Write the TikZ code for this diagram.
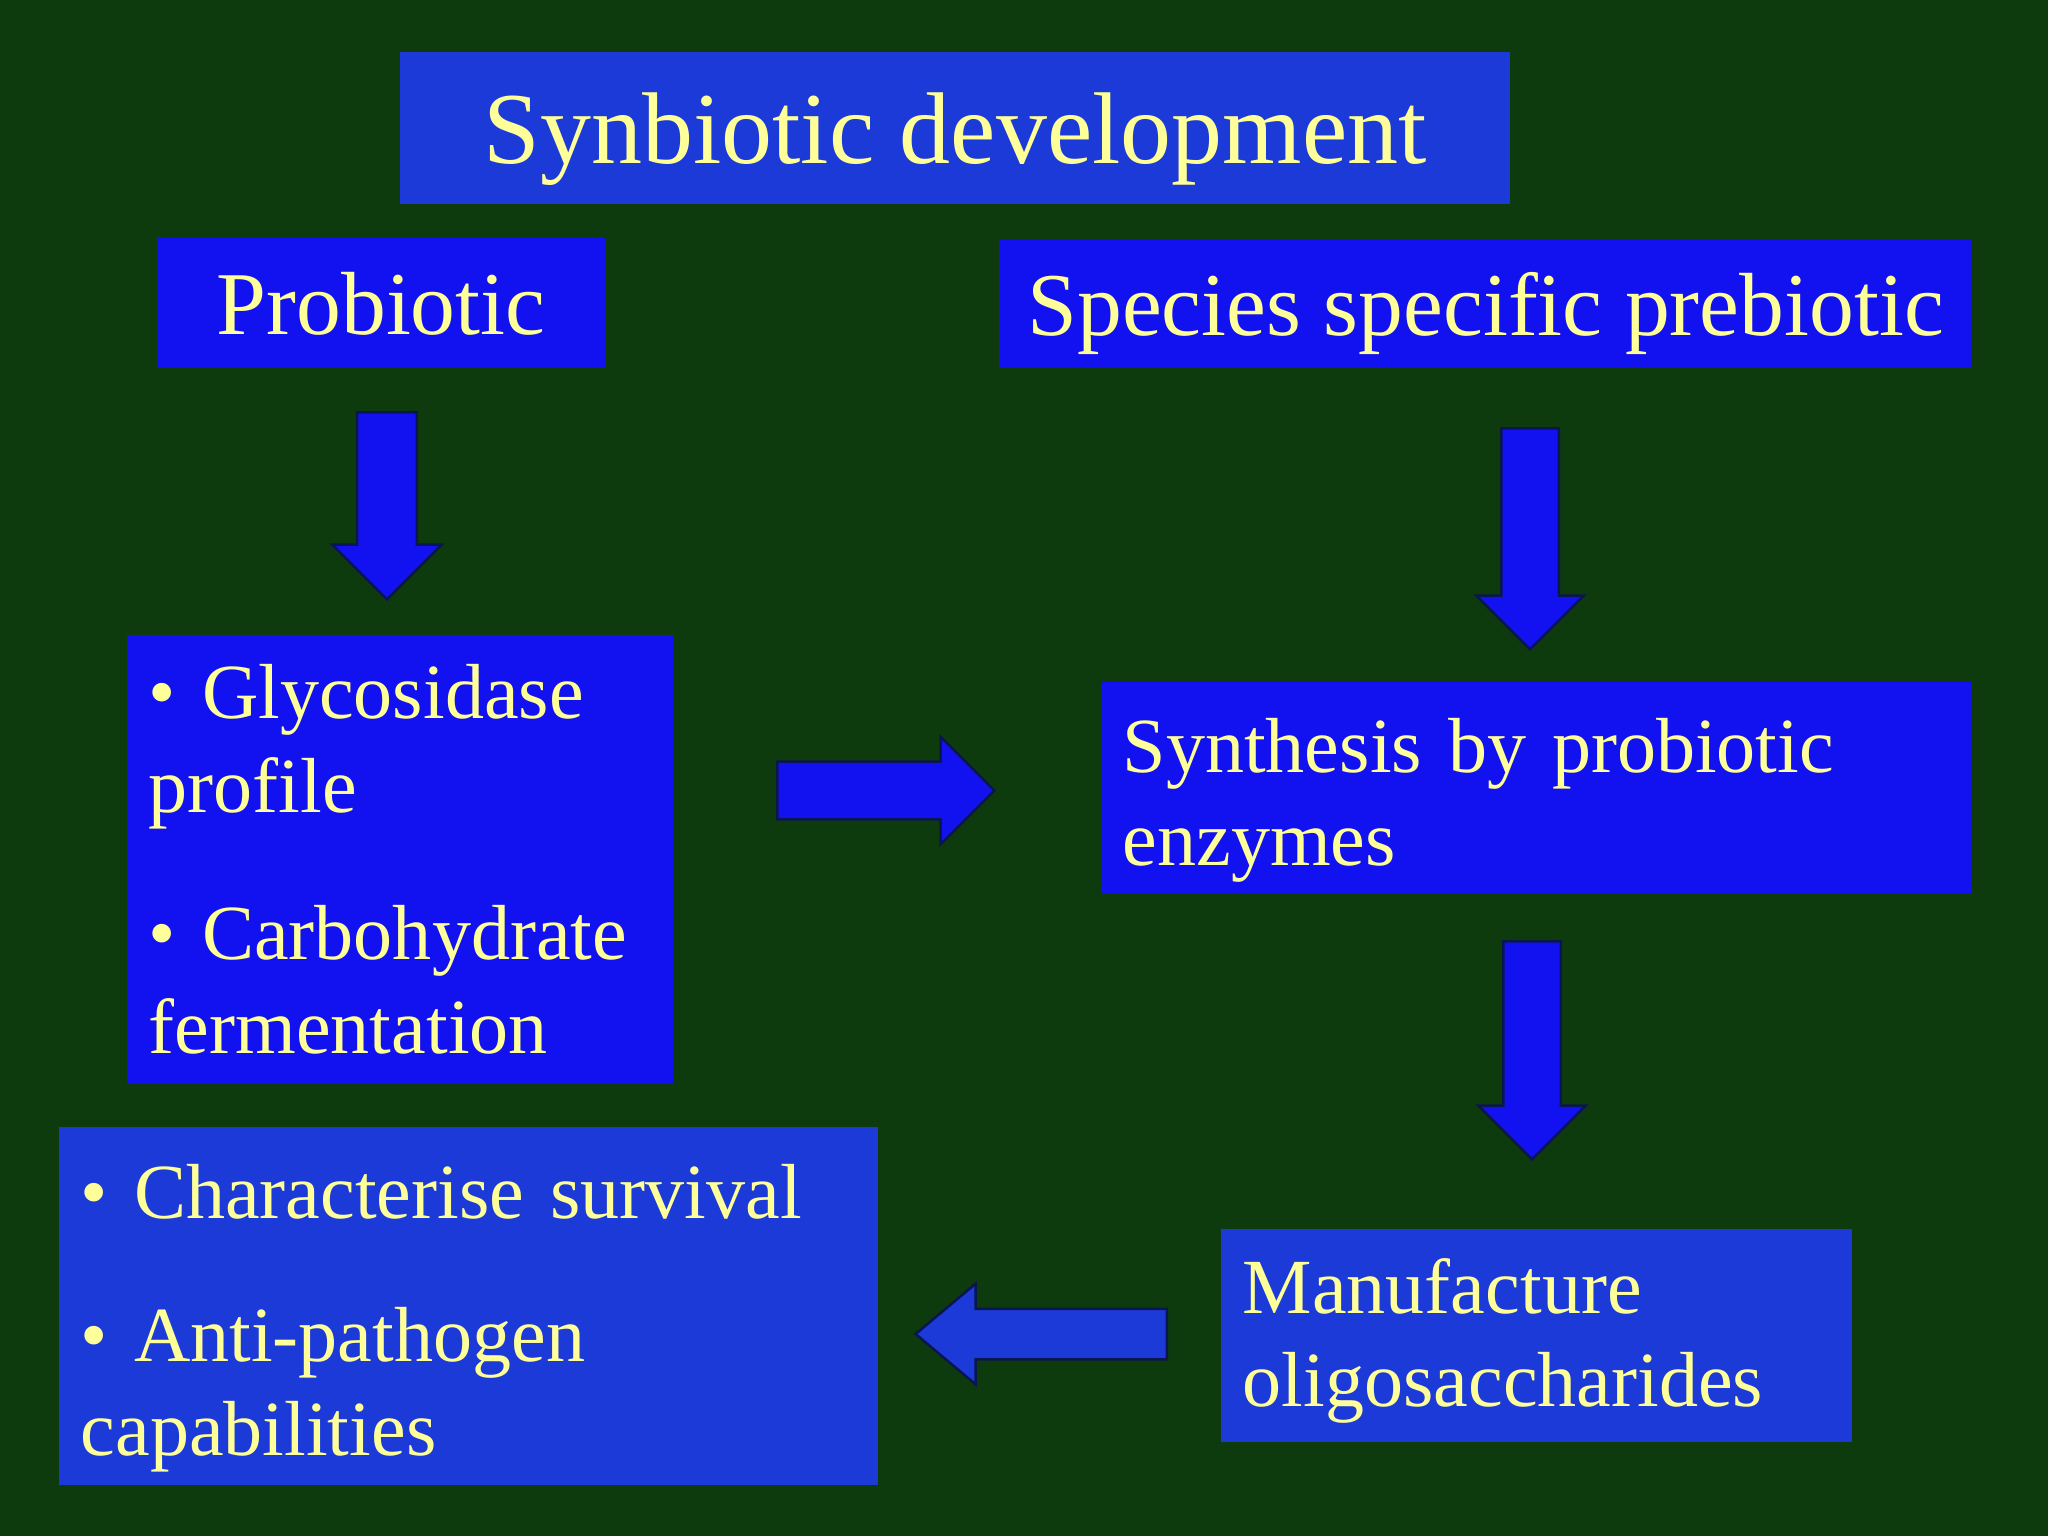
\documentclass[tikz,border=0pt]{standalone}
\usepackage{fontspec}
\setmainfont{Liberation Serif}
\usepackage{xcolor}
\usepackage{tikz}
\usetikzlibrary{shapes.arrows}
\definecolor{slidegreen}{HTML}{0E3B0E}
\definecolor{boxblue}{HTML}{1212F0}
\definecolor{dullblue}{HTML}{1C3AD8}
\definecolor{paleyellow}{HTML}{FFFF99}
\definecolor{arrowedge}{HTML}{0A1650}
\newcommand{\titlesize}{\fontsize{29}{34}\selectfont}
\newcommand{\headsize}{\fontsize{25.5}{30}\selectfont}
\newcommand{\bodysize}{\fontsize{22.2}{26.7}\selectfont}
\newcommand{\topgap}[1]{\rule{0pt}{#1}}
\tikzset{
  panel/.style={fill=boxblue, text=paleyellow, inner xsep=0.22cm, inner ysep=0pt, align=left, font=\bodysize},
  heading/.style={panel, text depth=0pt},
  fatarrow/.style={single arrow, fill=boxblue, draw=arrowedge, line width=0.025cm, inner sep=#1, single arrow head extend=0.25cm, anchor=tail},
  fatarrow/.default=0.275cm,
}

\begin{document}
\begin{tikzpicture}[x=0.01cm, y=-0.01cm]
\fill[slidegreen] (0,0) rectangle (2048,1536);
\useasboundingbox (0,0) rectangle (2048,1536);

% headings
\node[heading, fill=dullblue, minimum width=11.1cm, minimum height=1.52cm, font=\titlesize] (title) at (955,128) {Synbiotic development};
\node[heading, minimum width=4.48cm, minimum height=1.3cm, font=\headsize] (probiotic) at (381,303) {Probiotic};
\node[heading, minimum width=9.73cm, minimum height=1.28cm, font=\headsize] (prebiotic) at (1485.5,304) {Species specific prebiotic};

% steps
\node[panel, text width=5.02cm, minimum height=4.49cm] (glyco) at (400,859.5) {\textbullet\ Glycosidase\\ profile\\[15pt] \textbullet\ Carbohydrate\\ fermentation};
\node[panel, text width=8.27cm, minimum height=2.11cm] (synthesis) at (1536.5,788) {\topgap{22.4pt}Synthesis by probiotic\\ enzymes};
\node[panel, fill=dullblue, text width=5.87cm, minimum height=2.13cm] (manufacture) at (1536.5,1335.5) {\topgap{18.7pt}Manufacture\\ oligosaccharides};
\node[panel, fill=dullblue, text width=7.75cm, minimum height=3.58cm] (survival) at (468.5,1306) {\topgap{22.4pt}\textbullet\ Characterise survival\\[14pt] \textbullet\ Anti-pathogen\\ capabilities};

% block arrows
\node[fatarrow=0.285cm, shape border rotate=270, minimum height=1.87cm, minimum width=1.07cm] (down1) at (387,411) {};
\node[fatarrow, shape border rotate=270, minimum height=2.21cm, minimum width=1.06cm] (down2) at (1530,427) {};
\node[fatarrow, minimum height=2.17cm, minimum width=1.07cm] (across) at (776,790.5) {};
\node[fatarrow, shape border rotate=270, minimum height=2.18cm, minimum width=1.04cm] (down3) at (1532,940) {};
\node[fatarrow=0.24cm, fill=dullblue, shape border rotate=180, single arrow tip angle=80, minimum height=2.51cm, minimum width=0.98cm] (back) at (1168,1334) {};
\end{tikzpicture}
\end{document}
